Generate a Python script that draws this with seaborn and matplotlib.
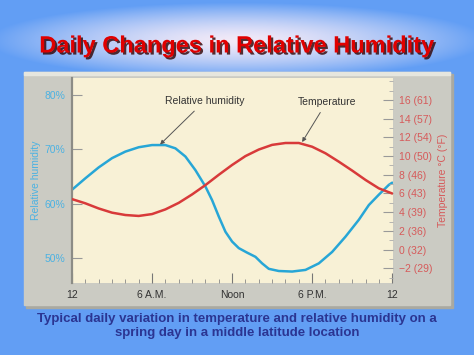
import numpy as np
import pandas as pd
import seaborn as sns
import matplotlib.pyplot as plt
import matplotlib.patheffects as pe
from matplotlib.patches import Rectangle
from matplotlib.ticker import MultipleLocator

# values (hours after midnight)
rh_hours = [0, 1, 2, 3, 4, 5, 6, 7, 7.75, 8.5, 9.25, 10, 10.5, 11, 11.5, 12, 12.5, 13.1,
            13.75, 14.25, 14.75, 15.5, 16.5, 17.5, 18.5, 19.5, 20.5, 21.5, 22.25, 23, 23.75, 24]
rh_values = [62.6, 64.7, 66.7, 68.4, 69.6, 70.4, 70.8, 70.8, 70.2, 68.7, 66.2, 63.2, 60.7,
             57.7, 54.9, 53.1, 51.9, 51.1, 50.3, 49.1, 48.1, 47.7, 47.6, 47.9, 49.1, 51.2,
             54.0, 57.1, 59.8, 61.7, 63.5, 63.9]
temp_hours = [0, 1, 2, 3, 4, 5, 6, 7, 8, 9, 10, 11, 12, 13, 14, 15, 16, 17, 18, 19, 20,
              21, 22, 23, 24]
temp_values = [5.4, 4.95, 4.4, 3.95, 3.7, 3.6, 3.8, 4.3, 5.0, 5.9, 6.9, 8.0, 9.05, 10.0,
               10.7, 11.2, 11.4, 11.4, 11.0, 10.3, 9.4, 8.45, 7.45, 6.55, 6.0]

x_ticks = [0, 6, 12, 18, 24]
x_labels = ['12', '6 A.M.', 'Noon', '6 P.M.', '12']
rh_ticks = [50, 60, 70, 80]
temp_ticks = [-2, 0, 2, 4, 6, 8, 10, 12, 14, 16]
temp_labels = ['\u22122 (29)', '0 (32)', '2 (36)', '4 (39)', '6 (43)', '8 (46)',
               '10 (50)', '12 (54)', '14 (57)', '16 (61)']

rh = pd.DataFrame({'hour': rh_hours, 'rh': rh_values})
temp = pd.DataFrame({'hour': temp_hours, 'temp': temp_values})

sns.set_style('white')
plt.rcParams['font.family'] = ['Liberation Sans', 'DejaVu Sans']

W, H = 474, 355
fig = plt.figure(figsize=(W / 100, H / 100), dpi=100)

# blue background with a soft light glow at the top
bg = fig.add_axes([0, 0, 1, 1], zorder=-10)
yy, xx = np.mgrid[0:H, 0:W]
d = np.clip(np.sqrt(((xx - 237) / 250) ** 2 + ((yy - 40) / 38) ** 2), 0, 1)
inner = np.array([242, 234, 248]) / 255
outer = np.array([98, 158, 244]) / 255
img = inner[None, None, :] * (1 - d[..., None] ** 1.5) + outer[None, None, :] * d[..., None] ** 1.5
bg.imshow(img, extent=[0, W, H, 0], aspect='auto')
bg.set_xlim(0, W)
bg.set_ylim(H, 0)
bg.axis('off')

# grey panel with a bit of bevel
bg.add_patch(Rectangle((26, 74), 427, 234, color='#a9a9a1', zorder=2))
bg.add_patch(Rectangle((24, 72), 426, 233, color='#cbcbc3', zorder=3))
bg.add_patch(Rectangle((24, 72), 426, 3, color='#e6e6de', zorder=4))

bg.text(237, 46, 'Daily Changes in Relative Humidity', ha='center', va='center',
        fontsize=17, fontweight='bold', color='#e00000', zorder=5,
        path_effects=[pe.withSimplePatchShadow(offset=(1.5, -1.5), shadow_rgbFace='#300000', alpha=0.8)])
bg.text(237, 326, 'Typical daily variation in temperature and relative humidity on a\n'
        'spring day in a middle latitude location', ha='center', va='center',
        fontsize=9.5, fontweight='bold', color='#2b3592', linespacing=1.2, zorder=5)

# main plot
ax = fig.add_axes([72 / W, 1 - 283 / H, 321 / W, 205 / H])
ax.set_facecolor('#f8f1d6')
sns.lineplot(data=rh, x='hour', y='rh', ax=ax, color='#27a6d6', linewidth=1.8)
ax.set_xlim(0, 24.06)
ax.set_ylim(45.5, 83.1)
ax.set_yticks(rh_ticks)
ax.set_yticklabels([f'{v}%' for v in rh_ticks])
ax.set_xticks(x_ticks)
ax.set_xticklabels(x_labels)
ax.xaxis.set_minor_locator(MultipleLocator(1))
ax.tick_params(axis='y', direction='in', length=7, width=0.8, color='#999999',
               labelcolor='#4cb2e2', labelsize=7.5, pad=5)
ax.tick_params(axis='x', which='major', direction='in', length=7, width=0.8, color='#777777',
               labelcolor='#333333', labelsize=7.5, pad=5, bottom=True)
ax.tick_params(axis='x', which='minor', direction='in', length=3, width=0.6, color='#888888',
               bottom=True)
ax.set_xlabel('')
ax.set_ylabel('Relative humidity', color='#4cb2e2', fontsize=7.5, labelpad=2)
for s in ['top', 'right', 'bottom']:
    ax.spines[s].set_visible(False)
ax.spines['left'].set_color('#8c8c86')
ax.spines['left'].set_linewidth(1.6)

ax2 = ax.twinx()
sns.lineplot(data=temp, x='hour', y='temp', ax=ax2, color='#d83a3a', linewidth=1.8)
ax2.set_ylim(-3.57, 18.35)
ax2.set_yticks(temp_ticks)
ax2.set_yticklabels(temp_labels)
ax2.yaxis.set_minor_locator(MultipleLocator(1))
ax2.tick_params(axis='y', which='major', direction='in', length=7, width=0.8, color='#999999',
                labelcolor='#d65a5a', labelsize=7.5, pad=4)
ax2.tick_params(axis='y', which='minor', direction='in', length=3, width=0.6, color='#aaaaaa')
ax2.set_ylabel('Temperature \u00b0C (\u00b0F)', color='#d65a5a', fontsize=7.5, labelpad=4)
for s in ['top', 'right', 'bottom', 'left']:
    ax2.spines[s].set_visible(False)

arrow = dict(arrowstyle='-|>', color='#555555', lw=0.7, mutation_scale=6, shrinkA=2, shrinkB=0)
ax.annotate('Relative humidity', xy=(6.6, 70.9), xytext=(9.95, 78.9), ha='center', va='center',
            fontsize=7.5, color='#333333', arrowprops=arrow)
ax2.annotate('Temperature', xy=(17.25, 11.5), xytext=(19.1, 15.8), ha='center', va='center',
             fontsize=7.5, color='#333333', arrowprops=arrow)

fig.savefig('out.png', dpi=100)
